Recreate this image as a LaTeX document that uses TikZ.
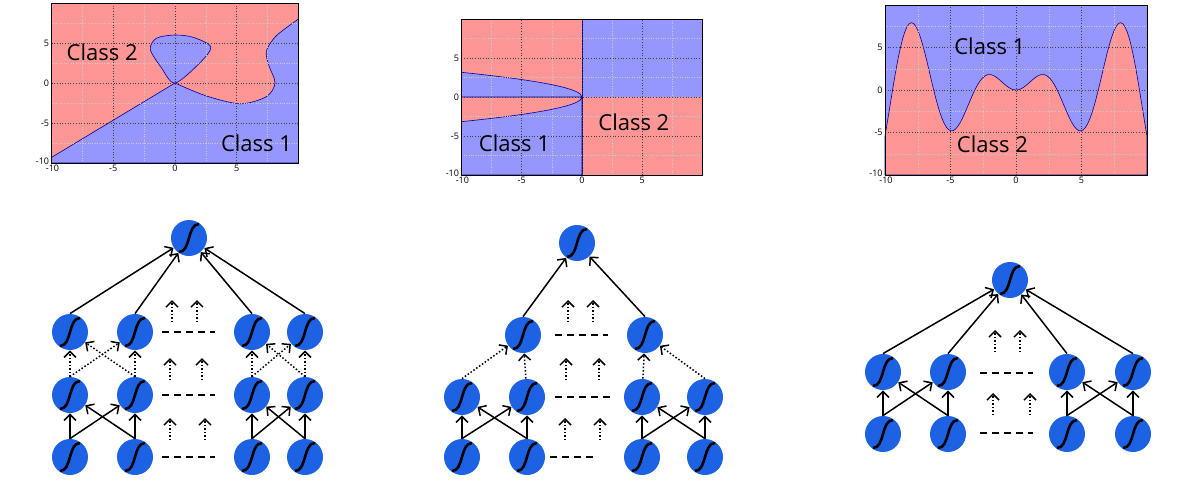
\documentclass[tikz,border=0pt]{standalone}
\usepackage{fontspec}
\setmainfont{Open Sans}
\usetikzlibrary{arrows.meta}
\definecolor{cred}{RGB}{255,150,150}
\definecolor{cblue}{RGB}{150,150,255}
\definecolor{nblue}{RGB}{30,98,228}
\tikzset{
  neuron/.style={circle, fill=nblue, minimum size=18pt, inner sep=0pt,
    path picture={\draw[line width=1.3pt]
      ([shift={(-5pt,-7pt)}]path picture bounding box.center)
      .. controls +(6pt,0pt) and +(-6pt,0pt) ..
      ([shift={(5pt,7pt)}]path picture bounding box.center);}},
  link/.style={->, line width=0.75pt},
  dlink/.style={->, line width=0.75pt, densely dotted},
  more/.style={line width=0.9pt, dash pattern=on 3.5pt off 2.5pt},
  bound/.style={draw=black!40!blue, line width=0.3pt},
  major/.style={black!75, line width=0.35pt, densely dotted},
  minor/.style={black!20, line width=0.2pt, densely dotted},
  tick/.style={font=\fontsize{4.5}{5}\selectfont, inner sep=1pt},
  cls/.style={font=\fontsize{11}{12}\selectfont}
}
\newcommand{\plotgrid}{%
  \foreach \v in {-7.5,-2.5,2.5,7.5} {\draw[minor] (\v,-10) -- (\v,10); \draw[minor] (-10,\v) -- (10,\v);}
  \foreach \v in {-5,0,5} {\draw[major] (\v,-10) -- (\v,10); \draw[major] (-10,\v) -- (10,\v);}
  \draw[line width=0.4pt] (-10,-10) rectangle (10,10);
  \foreach \v in {-5,0,5} {\node[tick, below] at (\v,-10) {\v}; \node[tick, left] at (-10,\v) {\v};}
  \node[tick, below right, xshift=-4pt] at (-10,-10) {-10};
  \node[tick, left, yshift=1pt] at (-10,-10) {-10};
}
\begin{document}
\begin{tikzpicture}[x=0.5pt, y=-0.5pt, >={Straight Barb[length=3pt,width=6pt]}]
\useasboundingbox (0,0) rectangle (1200,482);
% plot 1
\begin{scope}[xshift=87.5pt, yshift=-41.5pt, x=6.175pt, y=4pt]
  \fill[cred] (-10,-10) rectangle (10,10);
  \filldraw[cblue, bound] (-10,-9.3) -- (0,0)
    -- plot[smooth] coordinates {(0,0) (2.5,-1.6) (5.3,-2.6) (7.4,-1.7) (8.1,0) (7.6,2.2) (7.4,4) (8.2,5.9) (10,8)}
    -- (10,-10) -- (-10,-10) -- cycle;
  \filldraw[cblue, bound] plot[smooth cycle] coordinates {(0,0) (2,2.5) (2.9,4.5) (1.5,5.7) (0,6) (-1.5,5.6) (-2,4.2) (-1.1,1.9)};
  \plotgrid
  \node[cls] at (-5.9,3.9) {Class 2};
  \node[cls] at (6.6,-7.5) {Class 1};
\end{scope}
% plot 2
\begin{scope}[xshift=291pt, yshift=-48.5pt, x=6.03pt, y=3.9pt]
  \fill[cred] (-10,-10) rectangle (10,10);
  \fill[cblue] (0,0) rectangle (10,10);
  \filldraw[cblue, bound] (-10,0) -- (0,0) -- plot[domain=0:-10, samples=60] (\x,{sqrt(abs(\x))}) -- cycle;
  \filldraw[cblue, bound] (-10,-10) -- (0,-10) -- (0,0) -- plot[domain=0:-10, samples=60] (\x,{-sqrt(abs(\x))}) -- cycle;
  \draw[bound] (0,-10) -- (0,10);
  \plotgrid
  \node[cls] at (-5.6,-5.9) {Class 1};
  \node[cls] at (4.3,-3.3) {Class 2};
\end{scope}
% plot 3
\begin{scope}[xshift=508pt, yshift=-45pt, x=6.55pt, y=4.25pt]
  \fill[cblue] (-10,-10) rectangle (10,10);
  \filldraw[cred, bound] (-10,-10) -- plot[domain=-10:10, samples=120] (\x,{\x*sin(\x r)}) -- (10,-10) -- cycle;
  \plotgrid
  \node[cls] at (-2,5.2) {Class 1};
  \node[cls] at (-1.8,-6.4) {Class 2};
\end{scope}
% network 1
\node[neuron] (t1) at (189,238) {};
\foreach \n/\x in {1/70,2/135,3/252,4/305} {
  \node[neuron] (a\n) at (\x,332) {};
  \node[neuron] (b\n) at (\x,395) {};
  \node[neuron] (c\n) at (\x,457) {};
  \draw[link] (a\n.north) -- (t1);
}
\foreach \p/\q in {1/2,3/4} {
  \draw[link] (c\p) -- (b\p); \draw[link] (c\q) -- (b\q);
  \draw[link] (c\p.north) -- (b\q); \draw[link] (c\q.north) -- (b\p);
  \draw[dlink] (b\p) -- (a\p); \draw[dlink] (b\q) -- (a\q);
  \draw[dlink] (b\p.north) -- (a\q); \draw[dlink] (b\q.north) -- (a\p);
}
\foreach \y in {332,395,457} \draw[more] (162,\y) -- (215,\y);
\foreach \x/\y in {172/322,197/322,170/380,202/380,170/440,205/440} \draw[dlink] (\x,\y) -- (\x,\y-22);
% network 2
\node[neuron] (t2) at (577,243) {};
\node[neuron] (d1) at (523,335) {};
\node[neuron] (d2) at (645,335) {};
\foreach \n/\x in {1/462,2/527,3/642,4/705} {
  \node[neuron] (e\n) at (\x,397) {};
  \node[neuron] (f\n) at (\x,457) {};
}
\draw[link] (d1.north) -- (t2);
\draw[link] (d2.north) -- (t2);
\foreach \p/\q in {1/2,3/4} {
  \draw[link] (f\p) -- (e\p); \draw[link] (f\q) -- (e\q);
  \draw[link] (f\p.north) -- (e\q); \draw[link] (f\q.north) -- (e\p);
}
\draw[dlink] (e1.north) -- (d1);
\draw[dlink] (e2) -- (d1);
\draw[dlink] (e3) -- (d2);
\draw[dlink] (e4.north) -- (d2);
\draw[more] (555,335) -- (608,335);
\draw[more] (555,397) -- (610,397);
\draw[more] (550,457) -- (597,457);
\foreach \x/\y in {568/322,593/322,566/380,599/380,565/440,600/440} \draw[dlink] (\x,\y) -- (\x,\y-22);
% network 3
\node[neuron] (t3) at (1010,280) {};
\foreach \n/\x in {1/883,2/948,3/1067,4/1133} {
  \node[neuron] (g\n) at (\x,372) {};
  \node[neuron] (h\n) at (\x,434) {};
  \draw[link] (g\n.north) -- (t3);
}
\foreach \p/\q in {1/2,3/4} {
  \draw[link] (h\p) -- (g\p); \draw[link] (h\q) -- (g\q);
  \draw[link] (h\p.north) -- (g\q); \draw[link] (h\q.north) -- (g\p);
}
\draw[more] (980,373) -- (1033,373);
\draw[more] (980,433) -- (1033,433);
\foreach \x/\y in {995/352,1020/352,993/415,1030/415} \draw[dlink] (\x,\y) -- (\x,\y-22);
\end{tikzpicture}
\end{document}
